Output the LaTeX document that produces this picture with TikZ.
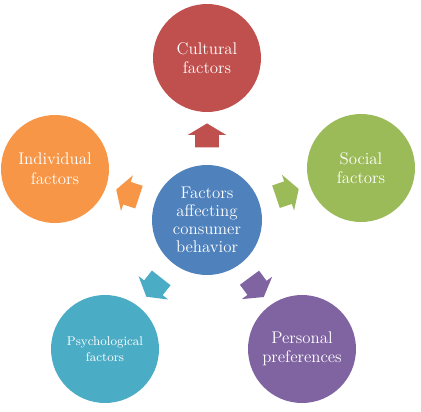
\documentclass[tikz,border=0pt]{standalone}
\definecolor{HubBlue}{RGB}{79, 129, 189}
\definecolor{CultRed}{RGB}{192, 80, 77}
\definecolor{SocGreen}{RGB}{155, 187, 89}
\definecolor{IndOrange}{RGB}{247, 150, 70}
\definecolor{PsyTeal}{RGB}{75, 172, 198}
\definecolor{PersPurple}{RGB}{128, 100, 162}
\usepackage{tikz}
\usetikzlibrary{shapes.arrows, calc, positioning}

\begin{document}
\begin{tikzpicture}[
        circ/.style={circle, draw=none, minimum size=2.7cm, inner sep=0pt, align=center, text=white, font=\large},
        blockarrow/.style={single arrow, draw=none, minimum width=0.925cm, minimum height=0.6cm, single arrow head extend=0.175cm, single arrow tip angle=118, inner xsep=0pt, inner ysep=0.29cm}
      ]
        \useasboundingbox (0,0) rectangle (10.525,-10.3);

        \node (hub) [circ, fill=HubBlue, minimum size=2.75cm, font=\fontsize{12}{12.8}\selectfont] at (5.175,-5.5) {Factors\\affecting\\consumer\\behavior};
        \node (cult) [circ, fill=CultRed] at (5.175,-1.45) {Cultural\\factors};
        \node (soc) [circ, fill=SocGreen] at (9.025,-4.2) {Social\\factors};
        \node (ind) [circ, fill=IndOrange] at (1.375,-4.225) {Individual\\factors};
        \node (psy) [circ, fill=PsyTeal, font=\small] at (2.625,-8.725) {Psychological\\factors};
        \node (pers) [circ, fill=PersPurple, font=\fontsize{12}{13.5}\selectfont] at (7.55,-8.725) {Personal\\preferences};

        \node (a1) [blockarrow, fill=CultRed, rotate=90] at ($(hub)!0.5!(cult)$) {};
        \node (a2) [blockarrow, fill=SocGreen, rotate=18.7] at ($(hub)!0.5!(soc)$) {};
        \node (a3) [blockarrow, fill=IndOrange, rotate=161.5] at ($(hub)!0.5!(ind)$) {};
        \node (a4) [blockarrow, fill=PsyTeal, rotate=231.7] at ($(hub)!0.5!(psy)$) {};
        \node (a5) [blockarrow, fill=PersPurple, rotate=-53.6] at ($(hub)!0.5!(pers)$) {};
      \end{tikzpicture}
\end{document}
